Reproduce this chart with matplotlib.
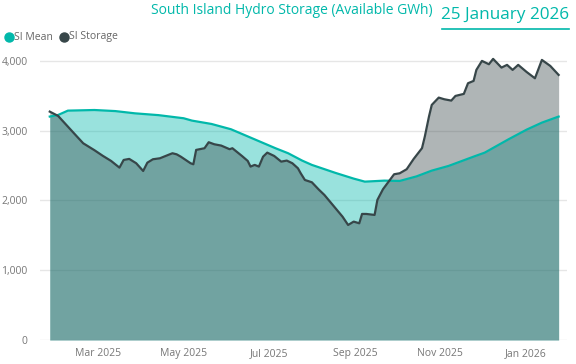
import matplotlib
matplotlib.use("Agg")
import matplotlib.pyplot as plt
import matplotlib.dates as mdates
from matplotlib.lines import Line2D
import pandas as pd
import numpy as np

plt.rcParams['font.family'] = ['Open Sans', 'DejaVu Sans']

title = "South Island Hydro Storage (Available GWh)"
date_label = "25 January 2026"
series_names = ["SI Mean", "SI Storage"]

storage_dates = ["2025-01-25", "2025-01-31", "2025-02-08", "2025-02-18", "2025-02-25",
                 "2025-03-03", "2025-03-10", "2025-03-16", "2025-03-19", "2025-03-23",
                 "2025-03-28", "2025-04-02", "2025-04-05", "2025-04-09", "2025-04-14",
                 "2025-04-18", "2025-04-23", "2025-04-26", "2025-04-29", "2025-05-06",
                 "2025-05-08", "2025-05-10", "2025-05-16", "2025-05-19", "2025-05-23",
                 "2025-05-28", "2025-06-03", "2025-06-05", "2025-06-11", "2025-06-16",
                 "2025-06-18", "2025-06-21", "2025-06-24", "2025-06-27", "2025-06-30",
                 "2025-07-05", "2025-07-10", "2025-07-14", "2025-07-18", "2025-07-22",
                 "2025-07-24", "2025-07-27", "2025-08-01", "2025-08-05", "2025-08-10",
                 "2025-08-17", "2025-08-23", "2025-08-27", "2025-08-31", "2025-09-04",
                 "2025-09-06", "2025-09-09", "2025-09-15", "2025-09-17", "2025-09-21",
                 "2025-09-25", "2025-09-29", "2025-10-03", "2025-10-08", "2025-10-13",
                 "2025-10-19", "2025-10-21", "2025-10-24", "2025-10-26", "2025-10-31",
                 "2025-11-04", "2025-11-09", "2025-11-12", "2025-11-18", "2025-11-21",
                 "2025-11-25", "2025-11-27", "2025-12-01", "2025-12-06", "2025-12-09",
                 "2025-12-15", "2025-12-19", "2025-12-23", "2025-12-27", "2026-01-01",
                 "2026-01-08", "2026-01-13", "2026-01-19", "2026-01-25"]
storage_values = [3274, 3212, 3036, 2820, 2735,
                  2653, 2567, 2471, 2581, 2596,
                  2534, 2423, 2542, 2591, 2605,
                  2638, 2677, 2662, 2628, 2534,
                  2519, 2725, 2749, 2835, 2806,
                  2787, 2735, 2749, 2653, 2567,
                  2486, 2510, 2486, 2628, 2686,
                  2638, 2557, 2572, 2534, 2462,
                  2390, 2294, 2261, 2175, 2079,
                  1911, 1768, 1649, 1697, 1673,
                  1807, 1807, 1793, 2008, 2161,
                  2270, 2376, 2390, 2448, 2595,
                  2750, 2915, 3203, 3370, 3475,
                  3451, 3432, 3499, 3528, 3681,
                  3714, 3872, 4001, 3953, 4030,
                  3905, 3944, 3872, 3944, 3858,
                  3752, 4015, 3929, 3800]

mean_dates = ["2025-01-25", "2025-01-31", "2025-02-07", "2025-02-25", "2025-03-12",
              "2025-03-26", "2025-04-12", "2025-04-26", "2025-05-01", "2025-05-07",
              "2025-05-21", "2025-06-04", "2025-06-18", "2025-07-03", "2025-07-15",
              "2025-07-24", "2025-08-01", "2025-08-15", "2025-08-30", "2025-09-08",
              "2025-09-21", "2025-10-03", "2025-10-15", "2025-10-26", "2025-11-07",
              "2025-11-21", "2025-12-03", "2025-12-17", "2026-01-01", "2026-01-13",
              "2026-01-25"]
mean_values = [3203, 3226, 3288, 3298, 3284,
               3251, 3226, 3190, 3179, 3145,
               3097, 3021, 2901, 2772, 2677,
               2581, 2510, 2414, 2319, 2270,
               2285, 2280, 2345, 2428, 2495,
               2600, 2686, 2844, 3006, 3116,
               3203]

y_ticks = [0, 1000, 2000, 3000, 4000]
x_tick_dates = ["2025-03-01", "2025-05-01", "2025-07-01", "2025-09-01", "2025-11-01", "2026-01-01"]

MEAN_C = "#01B8AA"
STOR_C = "#374649"
GRAY_TXT = "#777777"

# daily series via library resampling of read points
sd = pd.Series(storage_values, index=pd.to_datetime(storage_dates)).resample("D").interpolate("linear")
md = pd.Series(mean_values, index=pd.to_datetime(mean_dates)).resample("D").interpolate("linear")

W, H = 576, 364
fig = plt.figure(figsize=(W / 100, H / 100), dpi=100)
ax_left, ax_right, ax_bottom_px, ax_top_px = 40, 567, 340, 54
ax = fig.add_axes([ax_left / W, (H - ax_bottom_px) / H, (ax_right - ax_left) / W,
                   (ax_bottom_px - ax_top_px) / H])

ax.fill_between(md.index, 0, md.values, color=MEAN_C, alpha=0.4, linewidth=0, zorder=2)
ax.fill_between(sd.index, 0, sd.values, color=STOR_C, alpha=0.4, linewidth=0, zorder=3)
ax.plot(md.index, md.values, color=MEAN_C, lw=1.6, zorder=4)
ax.plot(sd.index, sd.values, color=STOR_C, lw=1.6, zorder=5)

ax.set_ylim(0, 4100)
ax.set_xlim(pd.Timestamp("2025-01-18"), pd.Timestamp("2026-01-31"))
ax.set_yticks(y_ticks)
ax.set_yticklabels([f"{v:,}" for v in y_ticks])
xt = pd.to_datetime(x_tick_dates)
ax.set_xticks(xt)
ax.set_xticklabels([d.strftime("%b %Y") for d in xt])
ax.grid(axis="y", color="#E6E6E6", lw=1, zorder=0)
ax.set_axisbelow(True)
for s in ax.spines.values():
    s.set_visible(False)
ax.tick_params(axis="both", length=0, colors=GRAY_TXT, labelsize=7.5)
ax.tick_params(axis="y", pad=9)
ax.tick_params(axis="x", pad=6)

# title & date
fig.text(291.5 / W, 1 - 10 / H, title, color=MEAN_C, fontsize=10, ha="center", va="center")
fig.text(505.5 / W, 1 - 15 / H, date_label, color=MEAN_C, fontsize=12.3, ha="center", va="center")
fig.add_artist(Line2D([442 / W, 569 / W], [1 - 29 / H, 1 - 29 / H], color=MEAN_C, lw=1.2))

# legend
fig.add_artist(Line2D([8.5 / W], [1 - 37 / H], marker="o", color=MEAN_C, markersize=6.5, lw=0))
fig.text(13.5 / W, 1 - 37 / H, series_names[0], color="#666666", fontsize=7.5, va="center")
fig.add_artist(Line2D([64 / W], [1 - 37 / H], marker="o", color=STOR_C, markersize=6.5, lw=0))
fig.text(69 / W, 1 - 37 / H, series_names[1], color="#666666", fontsize=7.5, va="center")

fig.savefig("out.png", dpi=100)
